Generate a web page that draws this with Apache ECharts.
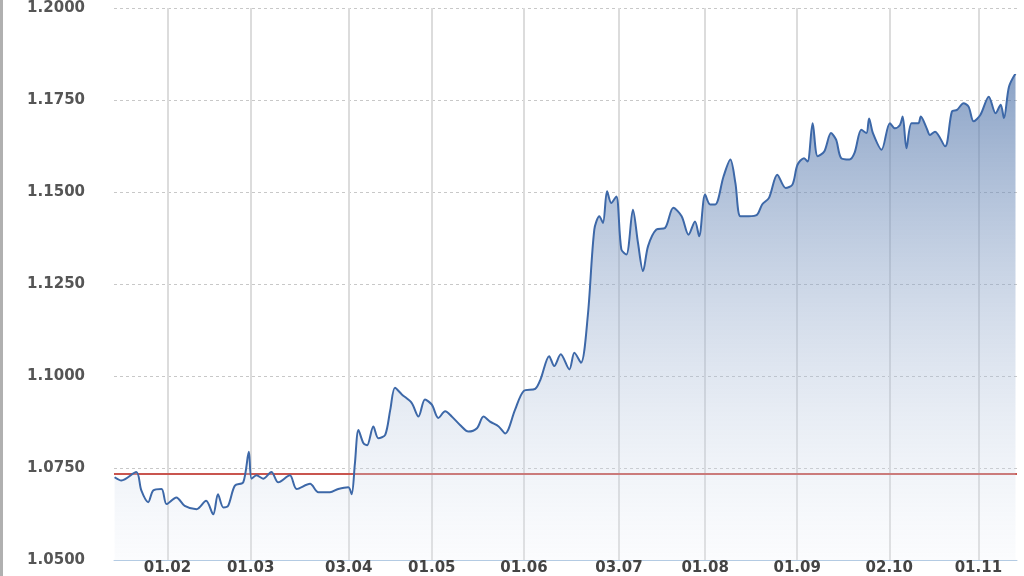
<!DOCTYPE html>
<html>
<head>
<meta charset="utf-8">
<script src="https://cdn.jsdelivr.net/npm/echarts@6/dist/echarts.min.js"></script>
<style>html,body{margin:0;padding:0;background:#fff}#myEchart{width:1024px;height:576px}</style>
</head>
<body>
<div id="myEchart"></div>
<script>
// day of year (2025) and rate
var days = [14.2,16.5,21.5,23.2,25.5,27.2,30,31.7,35,37.8,41.8,45,47.4,49,50.8,52.4,54.7,57.5,59.4,60.3,62,64.2,67,69.3,73.2,75.5,80,82.8,86.7,89.5,92.9,94,95.1,96.3,98,99.2,101.3,103,105.3,107,108.6,110.9,114.2,116.5,118.7,121,123.2,125.5,127.7,130.5,133.3,136.2,138.4,140.6,143.5,145.7,149,151.9,
    155.8,157.6,160.5,162.2,164.4,167.3,169,171.2,173.5,175.7,177.4,178.6,180,181.4,183.1,184.8,186.5,188.7,190.4,192.1,193.8,196.6,199.5,202.3,205.1,207.4,209.6,211,213,214.7,216.4,219.2,221.5,223.2,224.9,227.7,230.5,232.2,234.5,237.3,240.1,242.4,244.1,246.3,247.5,249.2,250.9,253.1,255.4,257.1,258.8,261.6,263.3,265.6,267.3,268.2,269.5,272.4,275.2,276.9,278.6,279.5,280.8,282.5,284.8,285.6,287.6,288.7,290.4,293.8,296.1,297.8,300,301.7,303.4,305.7,308.5,310.8,312.5,313.6,315.3,317.5];
var rates = [1.0725,1.0716,1.0739,1.0689,1.0657,1.0689,1.0693,1.0652,1.067,1.0647,1.0638,1.0661,1.0624,1.0679,1.0643,1.0647,1.0702,1.0711,1.0794,1.0721,1.073,1.0721,1.0739,1.0711,1.073,1.0693,1.0707,1.0684,1.0684,1.0693,1.0698,1.0679,1.0762,1.0853,1.0817,1.0812,1.0863,1.0831,1.084,1.0908,1.0968,1.095,1.0927,1.089,1.0936,1.0922,1.0886,1.0904,1.089,1.0867,1.0849,1.0858,1.089,1.0876,1.0863,1.0844,1.0908,1.0959,
    1.0965,1.0991,1.1054,1.1027,1.1059,1.1018,1.1063,1.1036,1.1163,1.1398,1.1434,1.1416,1.1502,1.147,1.1488,1.1344,1.133,1.1452,1.1362,1.1285,1.1353,1.1398,1.1402,1.1457,1.1434,1.1384,1.142,1.138,1.1493,1.1466,1.1466,1.1542,1.1588,1.1524,1.1434,1.1434,1.1438,1.1466,1.1484,1.1547,1.1511,1.152,1.1574,1.1592,1.1583,1.1687,1.1597,1.161,1.166,1.1642,1.1592,1.1588,1.1606,1.1669,1.166,1.17,1.166,1.1615,1.1687,1.1673,1.1682,1.1705,1.1619,1.1687,1.1687,1.1705,1.1673,1.1655,1.1664,1.1624,1.1719,1.1723,1.1741,1.1732,1.1692,1.171,1.1759,1.1714,1.1737,1.1701,1.1786,1.1822];
var tickDays = [32,60,93,121,152,184,213,244,275,305];
var tickLabels = ['01.02','01.03','03.04','01.05','01.06','03.07','01.08','01.09','02.10','01.11'];
var refRate = 1.0735;

var points = [];
for (var i = 0; i < days.length; i++) points.push([days[i], rates[i]]);
var vLines = [];
for (i = 0; i < tickDays.length; i++) vLines.push({xAxis: tickDays[i], lineStyle: {color: '#dcdcdc', width: 2, type: 'solid'}});
vLines.push({yAxis: refRate, lineStyle: {color: '#c9554f', width: 2, type: 'solid'}});

var myChart = echarts.init(document.getElementById('myEchart'));
myChart.setOption({
    animation: false,
    grid: {left: 114, right: 7, top: 8, bottom: 14},
    xAxis: {
        type: 'value', min: 14, max: 318,
        splitLine: {show: false},
        axisTick: {show: false},
        axisLine: {lineStyle: {color: '#b4cbe3', width: 1}},
        axisLabel: {
            customValues: tickDays,
            margin: 1,
            color: '#444', fontWeight: 'bold', fontSize: 15, fontFamily: 'DejaVu Sans',
            formatter: function(v) { return tickLabels[tickDays.indexOf(v)] || ''; }
        }
    },
    yAxis: {
        type: 'value', min: 1.05, max: 1.2, interval: 0.025,
        axisLine: {show: false}, axisTick: {show: false},
        splitLine: {lineStyle: {color: '#c8c8c8', type: [3, 3]}},
        axisLabel: {
            margin: 29, color: '#555', fontWeight: 'bold', fontSize: 15, fontFamily: 'DejaVu Sans',
            formatter: function(v) { return v.toFixed(4); }
        }
    },
    series: [{
        type: 'line',
        data: points,
        showSymbol: false,
        smooth: 0.3,
        lineStyle: {color: '#3d68a8', width: 2},
        areaStyle: {
            color: new echarts.graphic.LinearGradient(0, 0, 0, 1, [
                {offset: 0, color: 'rgba(70,108,165,0.9)'},
                {offset: 1, color: 'rgba(235,240,248,0.3)'}
            ])
        },
        markLine: {silent: true, symbol: 'none', precision: 4, label: {show: false}, data: vLines, z: 1}
    }],
    graphic: [{type: 'rect', left: 0, top: 0, shape: {width: 3, height: 576}, style: {fill: '#b0b0b0'}}]
});
</script>
</body>
</html>
